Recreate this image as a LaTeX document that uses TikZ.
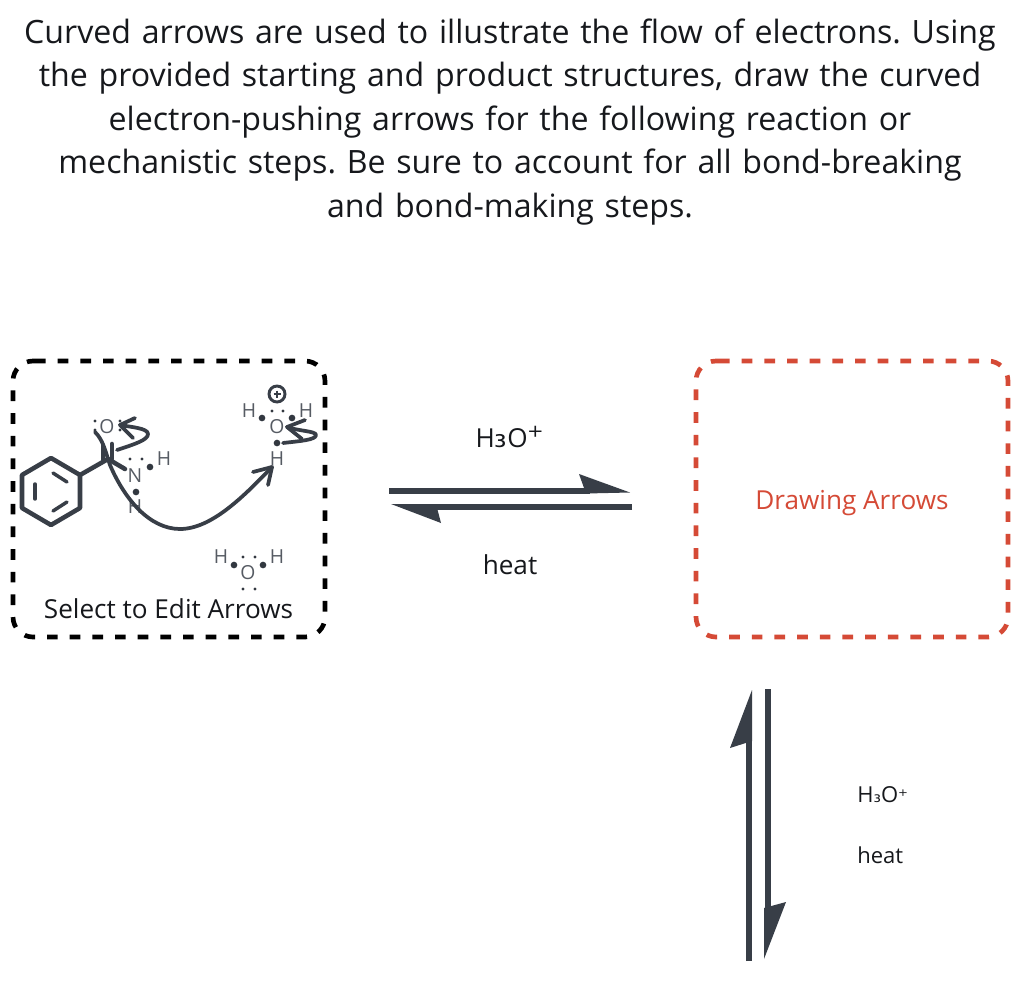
\documentclass[tikz,border=0pt]{standalone}
\usepackage{fontspec}
\usetikzlibrary{calc}
\setmainfont{Open Sans}
\newfontfamily\scriptglyphs{DejaVu Sans}
\newcommand{\hthree}[1]{H{\scriptglyphs\scalebox{#1}{₃}}O{\scriptglyphs\scalebox{#1}{⁺}}}
\definecolor{ink}{HTML}{383E47}
\definecolor{txt}{HTML}{16181C}
\definecolor{redbox}{HTML}{D54A36}
\tikzset{
  px/.style={x=0.75pt,y=-0.75pt},
  head/.style={fill=ink,draw=none},
  shaft/.style={draw=ink,line width=4.5pt,line cap=butt},
  bond/.style={draw=ink,line width=3.4pt,line cap=round},
  bondthin/.style={draw=ink,line width=2.6pt,line cap=round},
  curve/.style={draw=ink,line width=2.8pt,line cap=round,line join=round},
  atom/.style={inner sep=0pt,text=ink!85!white,font=\fontsize{14.5pt}{15pt}\selectfont},
  big/.style={inner sep=0pt,text=txt,font=\fontsize{24.1pt}{32.6pt}\selectfont},
  mid/.style={inner sep=0pt,text=txt,font=\fontsize{19.6pt}{21pt}\selectfont},
  small/.style={inner sep=0pt,text=txt,font=\fontsize{16.5pt}{17pt}\selectfont},
  epair/.style={circle,fill=ink!90!black,inner sep=0pt,minimum size=5pt},
  lone/.style={circle,fill=ink!90!black,inner sep=0pt,minimum size=2.5pt},
  dashbox/.style={line width=3.5pt,rounded corners=15pt,dash pattern=on 8pt off 9pt}
}
\frenchspacing
\begin{document}
\begin{tikzpicture}[px]
\useasboundingbox (0,0) rectangle (1024,999);
\fill[white] (0,0) rectangle (1024,999);
% question
\node[big,align=center,text width=760pt] (q) at (510,122) {Curved arrows are used to illustrate the flow of electrons. Using\\the provided starting and product structures, draw the curved\\electron-pushing arrows for the following reaction or\\mechanistic steps. Be sure to account for all bond-breaking\\and bond-making steps.};
% boxes
\draw[dashbox,draw=black] (35,361) -- (325,361) -- (325,637) -- (13,637) -- (13,361) -- (35,361);
\draw[dashbox,draw=redbox] (719,361) -- (1008,361) -- (1008,637) -- (696,637) -- (696,361) -- (719,361);
\node[mid] (sel) at (168.500,609) {Select to Edit Arrows};
\node[mid,text=redbox] (draw) at (852,503) {Drawing Arrows};
% horizontal equilibrium
\node[mid] (r1) at (510,437) {\hthree{1.2}};
\node[mid] (r2) at (510,565) {heat};
\coordinate (a1) at (389,490.500); \coordinate (a2) at (590,490.500);
\coordinate (b1) at (632,507); \coordinate (b2) at (432,507);
\draw[shaft] (a1) -- (a2);
\draw[shaft] (b1) -- (b2);
\fill[head] (630,492.500) -- (579,474) -- (586,493.500) -- cycle;
\fill[head] (391,504) -- (441,523) -- (436,504) -- cycle;
% vertical equilibrium
\node[small,anchor=west] (r3) at (857,795) {\hthree{0.85}};
\node[small,anchor=west] (r4) at (857,855) {heat};
\coordinate (c1) at (749,961); \coordinate (c2) at (749,735);
\coordinate (d1) at (767.500,689); \coordinate (d2) at (767.500,915);
\draw[shaft] (c1) -- (c2);
\draw[shaft] (d1) -- (d2);
\fill[head] (752,690) -- (730,748) -- (752,741) -- cycle;
\fill[head] (764,959) -- (786,902) -- (764,908) -- cycle;
% benzene
\coordinate (r-a) at (51,458); \coordinate (r-b) at (80,475); \coordinate (r-c) at (80,508);
\coordinate (r-d) at (51,525); \coordinate (r-e) at (22,508); \coordinate (r-f) at (22,475);
\draw[bond,line join=round] (r-a) -- (r-b) -- (r-c) -- (r-d) -- (r-e) -- (r-f) -- cycle;
\coordinate (i1) at (53,473); \coordinate (i2) at (67,482);
\coordinate (i3) at (35,484); \coordinate (i4) at (35,499);
\coordinate (i5) at (53,511); \coordinate (i6) at (67,502);
\draw[bondthin] (i1) -- (i2);
\draw[bondthin] (i3) -- (i4);
\draw[bondthin] (i5) -- (i6);
\coordinate (C) at (108,459);
\draw[bond] (r-b) -- (C);
\coordinate (co1) at (103,461); \coordinate (co2) at (103,445);
\coordinate (co3) at (112,459); \coordinate (co4) at (112,444);
\draw[bond] (co1) -- (co2);
\draw[bond] (co3) -- (co4);
\coordinate (cn) at (125,469);
\draw[bond] (C) -- (cn);
% atoms
\node[atom] (O1) at (107,427) {O};
\node[lone] (o1a) at (95,421) {}; \node[lone] (o1b) at (95,430) {};
\node[lone] (o1c) at (120,421) {}; \node[lone] (o1d) at (120,430) {};
\node[atom] (N) at (135,476) {N};
\node[lone] (na) at (130,459) {}; \node[lone] (nb) at (142,459) {};
\node[epair] (nc) at (150,467) {}; \node[atom] (NH1) at (164,459) {H};
\node[epair] (nd) at (136,492) {}; \node[atom] (NH2) at (135,507) {H};
% hydronium
\node[circle,draw=ink,line width=2.2pt,minimum size=12pt,inner sep=0pt] (plus) at (277,394) {};
\draw[draw=ink,line width=1.8pt] ($(plus)+(-3.5,0)$) -- ($(plus)+(3.5,0)$) ($(plus)+(0,-3.5)$) -- ($(plus)+(0,3.5)$);
\node[atom] (HH1) at (249,411) {H}; \node[epair] (hd1) at (262,418) {};
\node[lone] (hl1) at (272,411) {}; \node[lone] (hl2) at (283,411) {};
\node[atom] (HO) at (277,427) {O}; \node[epair] (hd2) at (292,418) {};
\node[atom] (HH2) at (306,411) {H}; \node[epair] (hd3) at (277,443) {};
\node[atom] (HH3) at (277,459) {H};
% water
\node[atom] (WH1) at (221,557) {H}; \node[epair] (wd1) at (234,565) {};
\node[lone] (wl1) at (243,557) {}; \node[lone] (wl2) at (255,557) {};
\node[atom] (WO) at (248,573) {O}; \node[epair] (wd2) at (263,565) {};
\node[atom] (WH2) at (277,557) {H};
\node[lone] (wl3) at (243,589) {}; \node[lone] (wl4) at (255,589) {};
% curved arrows
\coordinate (big0) at (95,432); \coordinate (bigtip) at (272,467);
\coordinate (big1) at (253,472); \coordinate (big2) at (268,485);
\draw[curve] (big0) .. controls (103,440) and (105,450) .. (110,465) .. controls (125,500) and (150,529) .. (180,529) .. controls (212,529) and (245,495) .. (bigtip);
\draw[curve] (big1) -- (bigtip) -- (big2);
\coordinate (s0) at (117,450); \coordinate (stip) at (120,425);
\coordinate (s1) at (135,418); \coordinate (s2) at (133,438);
\draw[curve] (s0) .. controls (135,444) and (148,440) .. (148,434) .. controls (148,428) and (130,427) .. (stip);
\draw[curve] (s1) -- (stip) -- (s2);
\coordinate (t0) at (283,443); \coordinate (ttip) at (287,427);
\coordinate (t1) at (305,420); \coordinate (t2) at (302,439);
\draw[curve] (t0) .. controls (300,441) and (316,440) .. (316,435) .. controls (316,431) and (298,431) .. (ttip);
\draw[curve] (t1) -- (ttip) -- (t2);
\end{tikzpicture}
\end{document}
